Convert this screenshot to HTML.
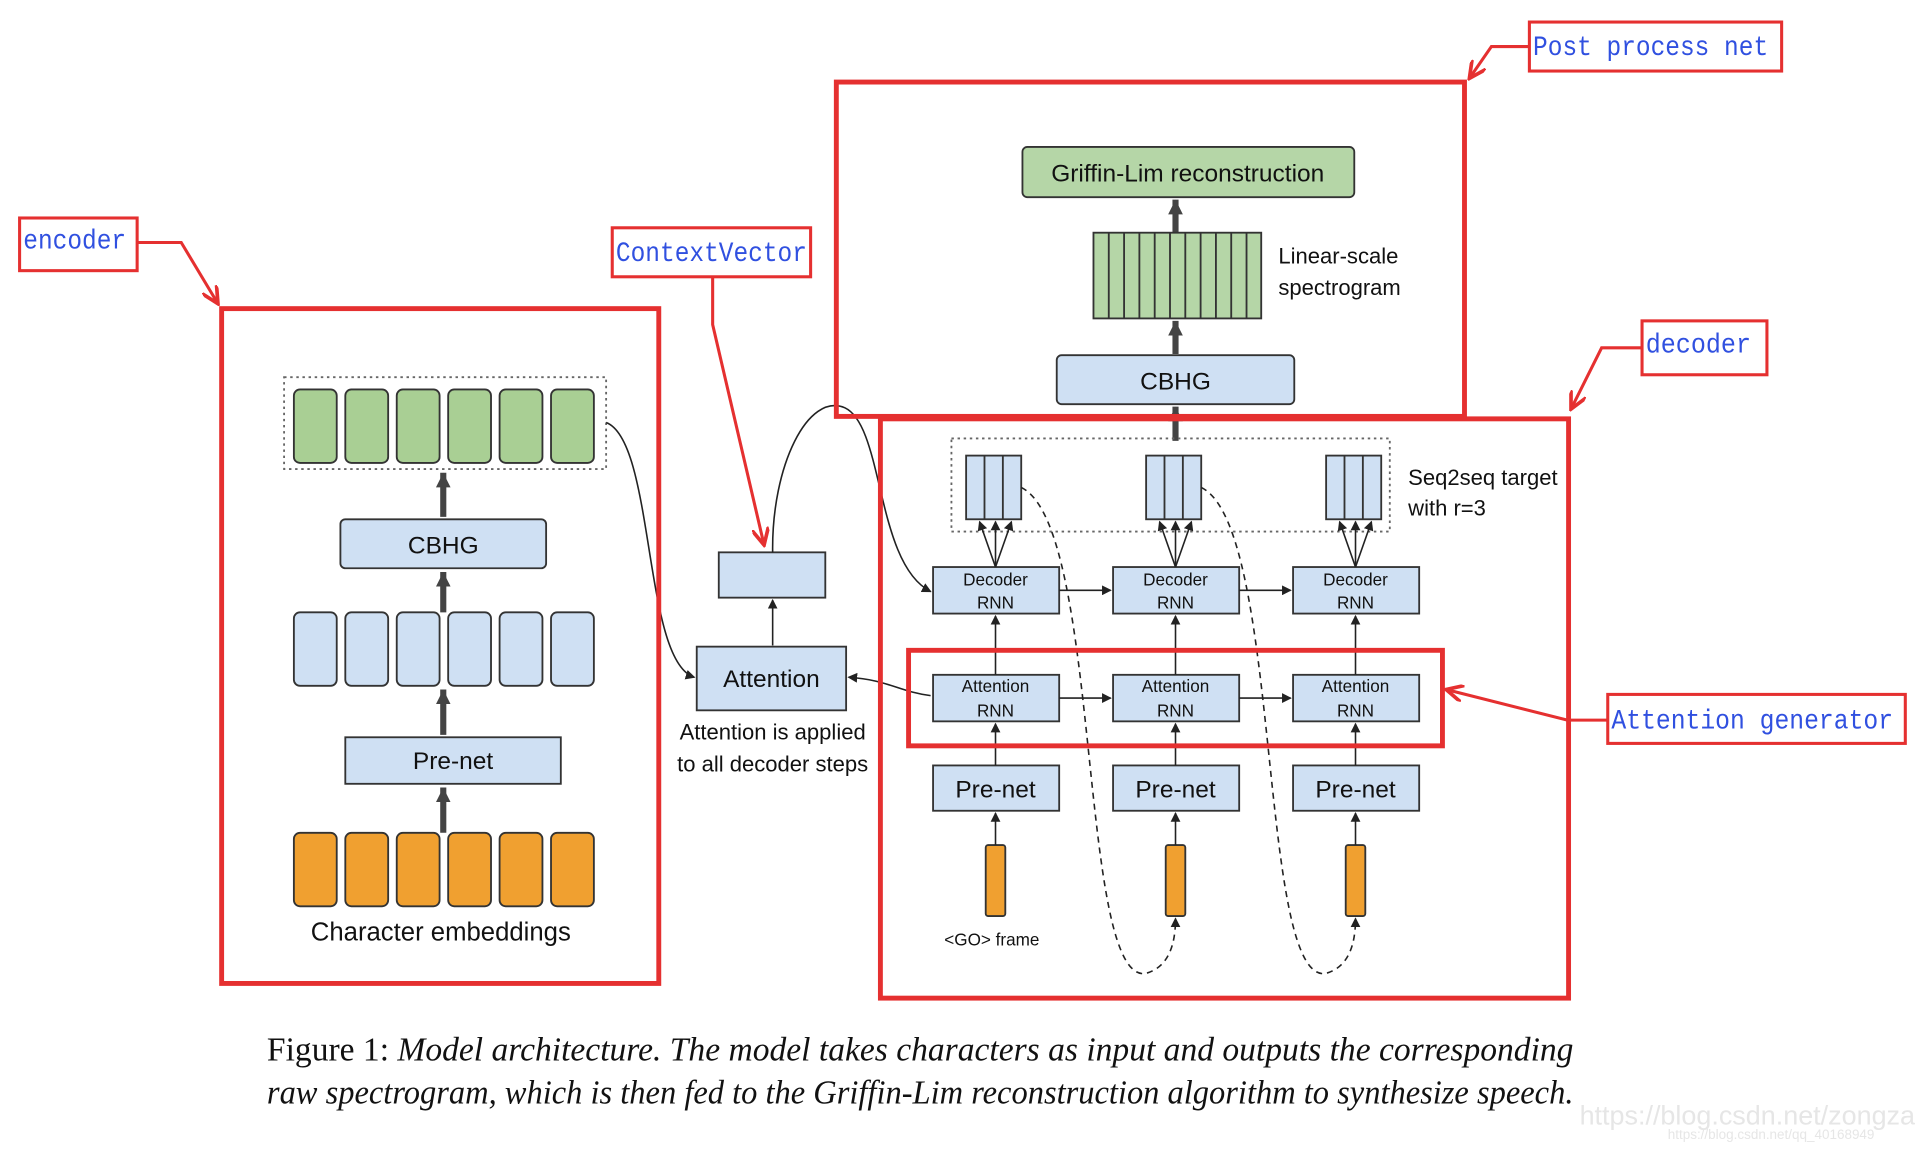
<!DOCTYPE html>
<html><head><meta charset="utf-8"><style>html,body{margin:0;padding:0;background:#fff;width:1920px;height:1150px;overflow:hidden}svg{display:block}</style></head>
<body>
<svg width="1920" height="1150" viewBox="0 0 1568 939" preserveAspectRatio="none" xmlns="http://www.w3.org/2000/svg" font-family="Liberation Sans, sans-serif">
<defs>
<marker id="ah" markerWidth="8" markerHeight="8" refX="7" refY="4" orient="auto" markerUnits="userSpaceOnUse"><path d="M0,0 L8,4 L0,8 z" fill="#222"/></marker>
<marker id="rh" markerWidth="16" markerHeight="14" refX="14" refY="7" orient="auto" markerUnits="userSpaceOnUse"><path d="M0,0 L14,7 L0,14" fill="none" stroke="#e53030" stroke-width="3"/></marker>
<marker id="gh" markerWidth="14" markerHeight="12" refX="12" refY="6" orient="auto" markerUnits="userSpaceOnUse"><path d="M0,0 L12,6 L0,12 z" fill="#444"/></marker>
</defs>
<g stroke="#333" stroke-width="1.5">
<rect x="232" y="308" width="263" height="75" fill="none" stroke="#666" stroke-dasharray="2,3"/>
<g fill="#a9cf94">
<rect x="240" y="318" width="35" height="60" rx="5"/><rect x="282" y="318" width="35" height="60" rx="5"/><rect x="324" y="318" width="35" height="60" rx="5"/><rect x="366" y="318" width="35" height="60" rx="5"/><rect x="408" y="318" width="35" height="60" rx="5"/><rect x="450" y="318" width="35" height="60" rx="5"/></g>
<g fill="#cfe0f3">
<rect x="240" y="500" width="35" height="60" rx="5"/><rect x="282" y="500" width="35" height="60" rx="5"/><rect x="324" y="500" width="35" height="60" rx="5"/><rect x="366" y="500" width="35" height="60" rx="5"/><rect x="408" y="500" width="35" height="60" rx="5"/><rect x="450" y="500" width="35" height="60" rx="5"/>
<rect x="278" y="424" width="168" height="40" rx="4"/>
<rect x="282" y="602" width="176" height="38"/>
</g>
<g fill="#f0a030">
<rect x="240" y="680" width="35" height="60" rx="5"/><rect x="282" y="680" width="35" height="60" rx="5"/><rect x="324" y="680" width="35" height="60" rx="5"/><rect x="366" y="680" width="35" height="60" rx="5"/><rect x="408" y="680" width="35" height="60" rx="5"/><rect x="450" y="680" width="35" height="60" rx="5"/></g>
</g>
<g stroke="#444" stroke-width="5" marker-end="url(#gh)">
<line x1="362" y1="422" x2="362" y2="386"/><line x1="362" y1="500" x2="362" y2="467"/><line x1="362" y1="600" x2="362" y2="563"/><line x1="362" y1="680" x2="362" y2="643"/>
<line x1="960" y1="190" x2="960" y2="163"/><line x1="960" y1="289" x2="960" y2="262"/><line x1="960" y1="360" x2="960" y2="332"/>
</g>
<text x="360" y="768" font-size="21" text-anchor="middle" fill="#111">Character embeddings</text>
<text x="362" y="452" font-size="20" text-anchor="middle" fill="#111">CBHG</text>
<text x="370" y="628" font-size="20" text-anchor="middle" fill="#111">Pre-net</text>
<g stroke="#333" stroke-width="1.5" fill="#cfe0f3">
<rect x="587" y="451" width="87" height="37"/>
<rect x="569" y="528" width="122" height="52"/>
</g>
<text x="630" y="561" font-size="20" text-anchor="middle" fill="#111">Attention</text>
<text x="631" y="604" font-size="18" text-anchor="middle" fill="#111">Attention is applied</text>
<text x="631" y="630" font-size="18" text-anchor="middle" fill="#111">to all decoder steps</text>
<g fill="none" stroke="#222" stroke-width="1.3">
<line x1="631" y1="527" x2="631" y2="490" marker-end="url(#ah)"/>
<path d="M495,345 C535,360 525,540 567,553" marker-end="url(#ah)"/>
<path d="M631,451 C630,380 660,320 690,333 C722,348 715,460 760,483" marker-end="url(#ah)"/>
<path d="M760,568 C735,565 725,555 693,553" marker-end="url(#ah)"/>
</g>
<rect x="835" y="120" width="271" height="41" rx="4" fill="#b5d6a7" stroke="#333" stroke-width="1.5"/>
<text x="970" y="148" font-size="20" text-anchor="middle" fill="#111">Griffin-Lim reconstruction</text>
<rect x="893" y="190" width="137" height="70" fill="#b5d6a7" stroke="#333" stroke-width="1.5"/>
<g stroke="#333" stroke-width="1.5"><line x1="905.5" y1="190" x2="905.5" y2="260"/><line x1="918" y1="190" x2="918" y2="260"/><line x1="930.5" y1="190" x2="930.5" y2="260"/><line x1="943" y1="190" x2="943" y2="260"/><line x1="955.5" y1="190" x2="955.5" y2="260"/><line x1="968" y1="190" x2="968" y2="260"/><line x1="980.5" y1="190" x2="980.5" y2="260"/><line x1="993" y1="190" x2="993" y2="260"/><line x1="1005.5" y1="190" x2="1005.5" y2="260"/><line x1="1018" y1="190" x2="1018" y2="260"/></g>
<text x="1044" y="215" font-size="18" fill="#111">Linear-scale</text>
<text x="1044" y="241" font-size="18" fill="#111">spectrogram</text>
<rect x="863" y="290" width="194" height="40" rx="4" fill="#cfe0f3" stroke="#333" stroke-width="1.5"/>
<text x="960" y="318" font-size="20" text-anchor="middle" fill="#111">CBHG</text>
<rect x="777" y="358" width="358" height="76" fill="none" stroke="#666" stroke-width="1.5" stroke-dasharray="2,3"/>
<g stroke="#333" stroke-width="1.5" fill="#cfe0f3">
<rect x="789" y="372" width="45" height="52"/><rect x="936" y="372" width="45" height="52"/><rect x="1083" y="372" width="45" height="52"/>
</g>
<g stroke="#333" stroke-width="1.5">
<line x1="804" y1="372" x2="804" y2="424"/><line x1="819" y1="372" x2="819" y2="424"/>
<line x1="951" y1="372" x2="951" y2="424"/><line x1="966" y1="372" x2="966" y2="424"/>
<line x1="1098" y1="372" x2="1098" y2="424"/><line x1="1113" y1="372" x2="1113" y2="424"/>
</g>
<text x="1150" y="396" font-size="18" fill="#111">Seq2seq target</text>
<text x="1150" y="421" font-size="18" fill="#111">with r=3</text>
<g font-size="14" text-anchor="middle" fill="#111">
<g stroke="#333" stroke-width="1.5" fill="#cfe0f3">
<rect x="762" y="463" width="103" height="38"/><rect x="909" y="463" width="103" height="38"/><rect x="1056" y="463" width="103" height="38"/>
<rect x="762" y="551" width="103" height="38"/><rect x="909" y="551" width="103" height="38"/><rect x="1056" y="551" width="103" height="38"/>
<rect x="762" y="625" width="103" height="37"/><rect x="909" y="625" width="103" height="37"/><rect x="1056" y="625" width="103" height="37"/>
</g>
<text x="813" y="478">Decoder</text><text x="813" y="497">RNN</text>
<text x="960" y="478">Decoder</text><text x="960" y="497">RNN</text>
<text x="1107" y="478">Decoder</text><text x="1107" y="497">RNN</text>
<text x="813" y="565">Attention</text><text x="813" y="585">RNN</text>
<text x="960" y="565">Attention</text><text x="960" y="585">RNN</text>
<text x="1107" y="565">Attention</text><text x="1107" y="585">RNN</text>
<text x="813" y="651" font-size="20">Pre-net</text><text x="960" y="651" font-size="20">Pre-net</text><text x="1107" y="651" font-size="20">Pre-net</text>
<text x="810" y="772">&lt;GO&gt; frame</text>
</g>
<g fill="#f0a030" stroke="#333" stroke-width="1.5">
<rect x="805" y="690" width="16" height="58" rx="2"/><rect x="952" y="690" width="16" height="58" rx="2"/><rect x="1099" y="690" width="16" height="58" rx="2"/>
</g>
<g fill="none" stroke="#222" stroke-width="1.3" marker-end="url(#ah)">
<line x1="813" y1="463" x2="800" y2="426"/><line x1="813" y1="463" x2="813" y2="426"/><line x1="813" y1="463" x2="826" y2="426"/>
<line x1="960" y1="463" x2="947" y2="426"/><line x1="960" y1="463" x2="960" y2="426"/><line x1="960" y1="463" x2="973" y2="426"/>
<line x1="1107" y1="463" x2="1094" y2="426"/><line x1="1107" y1="463" x2="1107" y2="426"/><line x1="1107" y1="463" x2="1120" y2="426"/>
<line x1="865" y1="482" x2="907" y2="482"/><line x1="1012" y1="482" x2="1054" y2="482"/>
<line x1="865" y1="570" x2="907" y2="570"/><line x1="1012" y1="570" x2="1054" y2="570"/>
<line x1="813" y1="551" x2="813" y2="503"/><line x1="960" y1="551" x2="960" y2="503"/><line x1="1107" y1="551" x2="1107" y2="503"/>
<line x1="813" y1="625" x2="813" y2="591"/><line x1="960" y1="625" x2="960" y2="591"/><line x1="1107" y1="625" x2="1107" y2="591"/>
<line x1="813" y1="690" x2="813" y2="664"/><line x1="960" y1="690" x2="960" y2="664"/><line x1="1107" y1="690" x2="1107" y2="664"/>
<path d="M834,398 C900,430 880,800 935,795 C955,790 960,770 960,750" stroke-dasharray="5,4"/>
<path d="M981,398 C1047,430 1027,800 1082,795 C1102,790 1107,770 1107,750" stroke-dasharray="5,4"/>
</g>
<g fill="none" stroke="#e53030" stroke-width="4">
<rect x="181" y="252" width="357" height="551"/>
<rect x="683" y="67" width="513" height="273"/>
<rect x="719" y="342" width="562" height="473"/>
<rect x="742" y="531" width="436" height="78"/>
</g>
<g fill="#fff" stroke="#e53030" stroke-width="2.5">
<rect x="16" y="178" width="96" height="43"/>
<rect x="500" y="186" width="162" height="40"/>
<rect x="1249" y="18" width="206" height="40"/>
<rect x="1341" y="262" width="102" height="44"/>
<rect x="1313" y="567" width="243" height="40"/>
</g>
<g fill="none" stroke="#e53030" stroke-width="2.5" marker-end="url(#rh)">
<polyline points="112,198 148,198 178,248"/>
<polyline points="582,226 582,265 624,445"/>
<polyline points="1249,38 1218,38 1200,64"/>
<polyline points="1341,284 1308,284 1283,334"/>
<polyline points="1313,588 1280,588 1181,563"/>
</g>
<g font-family="Liberation Mono, monospace" font-size="23" fill="#3050e0">
<text x="19" y="203" textLength="84" lengthAdjust="spacingAndGlyphs">encoder</text>
<text x="503" y="213" textLength="156" lengthAdjust="spacingAndGlyphs">ContextVector</text>
<text x="1252" y="45" textLength="192" lengthAdjust="spacingAndGlyphs">Post process net</text>
<text x="1344" y="288" textLength="86" lengthAdjust="spacingAndGlyphs">decoder</text>
<text x="1316" y="595" textLength="230" lengthAdjust="spacingAndGlyphs">Attention generator</text>
</g>
<g font-family="Liberation Serif, serif" font-size="28" fill="#111">
<text x="218" y="866" textLength="1067" lengthAdjust="spacingAndGlyphs">Figure 1: <tspan font-style="italic">Model architecture. The model takes characters as input and outputs the corresponding</tspan></text>
<text x="218" y="901" textLength="1067" lengthAdjust="spacingAndGlyphs" font-style="italic">raw spectrogram, which is then fed to the Griffin-Lim reconstruction algorithm to synthesize speech.</text>
</g>
<text x="1290" y="918" font-size="22" fill="#e6e6e6">https://blog.csdn.net/zongza</text>
<text x="1362" y="930" font-size="11" fill="#e6e6e6">https://blog.csdn.net/qq_40168949</text>
</svg>
</body></html>
